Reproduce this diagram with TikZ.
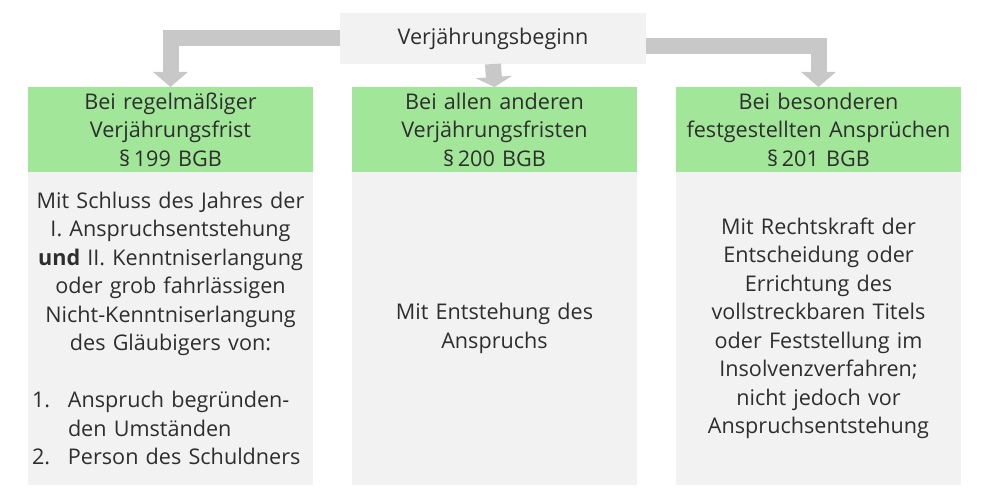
\documentclass[tikz,border=0pt]{standalone}
\usepackage{fontspec}
\setmainfont{Open Sans}
\usetikzlibrary{arrows.meta}

\definecolor{boxgreen}{HTML}{A2E699}
\definecolor{boxgray}{HTML}{F2F2F2}
\definecolor{arrowgray}{HTML}{C8C8C8}
\definecolor{textgray}{HTML}{2E2E2E}

\newcommand{\listenzeile}[2]{\makebox[277pt][l]{\makebox[36pt][l]{#1}#2}}

\begin{document}
\begin{tikzpicture}[
		x=1pt, y=-1pt,
		every node/.style={inner sep=0pt, outer sep=0pt, text=textgray, align=center,
			font=\fontsize{21.6}{28.5}\selectfont},
		headbox/.style={fill=boxgreen, text width=285pt, minimum height=85pt},
		bodybox/.style={fill=boxgray, text width=285pt, minimum height=313pt, anchor=north},
		bigarrow/.style={draw=arrowgray, line width=16pt, -{Triangle[width=34pt, length=15pt, fill=arrowgray]}}
	]
  \useasboundingbox (0,0) rectangle (982,494);
  \node (beginn) [fill=boxgray, minimum width=306pt, minimum height=51pt] at (493,38.5) {Verjährungsbeginn};
  \node (kopf_a) [headbox] at (170.5,129.5) {Bei regelmäßiger\\Verjährungsfrist\\\S\,199 BGB};
  \node (kopf_b) [headbox] at (494.5,129.5) {Bei allen anderen\\Verjährungsfristen\\\S\,200 BGB};
  \node (kopf_c) [headbox] at (818.5,129.5) {Bei besonderen\\festgestellten Ansprüchen\\\S\,201 BGB};
  \node (text_a) [bodybox] at (kopf_a.south) {Mit Schluss des Jahres der\\I. Anspruchsentstehung\\\textbf{und} II. Kenntniserlangung\\oder grob fahrlässigen\\Nicht-Kenntniserlangung\\des Gläubigers von:\\[28.5pt]
    \listenzeile{1.}{Anspruch begründen-}\\\listenzeile{}{den Umständen}\\\listenzeile{2.}{Person des Schuldners}};
  \node (text_b) [bodybox] at (kopf_b.south) {Mit Entstehung des\\Anspruchs};
  \node (text_c) [bodybox] at (kopf_c.south) {Mit Rechtskraft der\\Entscheidung oder\\Errichtung des\\vollstreckbaren Titels\\oder Feststellung im\\Insolvenzverfahren;\\nicht jedoch vor\\Anspruchsentstehung};
  \coordinate (rechts) at ([yshift=-8pt]beginn.east);
  \draw [bigarrow] (beginn.west) -| (kopf_a.north);
  \draw [bigarrow, -{Triangle[width=36pt, length=10pt, fill=arrowgray]}] (beginn.south) -- (kopf_b.north);
  \draw [bigarrow] (rechts) -| (kopf_c.north);
\end{tikzpicture}
\end{document}
